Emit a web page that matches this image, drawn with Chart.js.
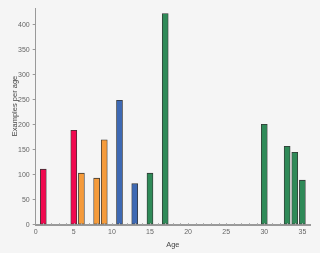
<!DOCTYPE html>
<html><head><meta charset="utf-8">
<script src="https://cdn.jsdelivr.net/npm/chart.js@4"></script>
<style>html,body{margin:0;padding:0;background:#f5f5f5;}#wrap{width:320px;height:253px;}</style>
</head><body><div id="wrap"><canvas id="c" width="320" height="253"></canvas></div>
<script>
const ages = [1, 5, 6, 8, 9, 11, 13, 15, 17, 30, 33, 34, 35];
const counts = [111, 189, 103, 93, 170, 249, 82, 103, 423, 201, 157, 145, 89];
const groups = ['a', 'a', 'b', 'b', 'b', 'c', 'c', 'd', 'd', 'd', 'd', 'd', 'd'];
const groupColors = { a: '#f0094f', b: '#f59b3b', c: '#3e69b3', d: '#2f8a58' };
const xTicks = [0, 5, 10, 15, 20, 25, 30, 35];
const yTicks = [0, 50, 100, 150, 200, 250, 300, 350, 400];
const yTitle = 'Examples per age';

const bg = { id: 'bg', beforeDraw(ch) { const c = ch.ctx; c.save(); c.fillStyle = '#f5f5f5'; c.fillRect(0, 0, ch.width, ch.height); c.restore(); } };
const yTitlePlugin = { id: 'yTitle', afterDraw(ch) {
  const c = ch.ctx; c.save();
  c.translate(15, 106); c.rotate(-Math.PI / 2);
  c.font = '7.5px "Liberation Sans"'; c.fillStyle = '#444'; c.textAlign = 'center'; c.textBaseline = 'middle';
  c.fillText(yTitle, 0, 0); c.restore();
} };
const minorTicks = { id: 'minorTicks', afterDraw(ch) {
  const c = ch.ctx, xs = ch.scales.x, y0 = ch.chartArea.bottom;
  c.save(); c.strokeStyle = '#aaa'; c.lineWidth = 1;
  for (let v = 1; v <= 35; v++) { const px = Math.round(xs.getPixelForValue(v)) + 0.5; c.beginPath(); c.moveTo(px, y0); c.lineTo(px, y0 - 1.5); c.stroke(); }
  c.restore();
} };

new Chart(document.getElementById('c'), {
  type: 'bar',
  data: {
    datasets: [{
      data: ages.map((a, i) => ({ x: a, y: counts[i] })),
      backgroundColor: groups.map(g => groupColors[g]),
      borderColor: '#333333',
      borderWidth: 0.8,
      barThickness: 6,
      borderSkipped: false
    }]
  },
  options: {
    responsive: false,
    animation: false,
    devicePixelRatio: 1,
    layout: { padding: { left: 15, right: 10, top: 8, bottom: 4 } },
    plugins: { legend: { display: false }, tooltip: { enabled: false } },
    scales: {
      x: {
        type: 'linear', min: 0, max: 36, offset: false,
        afterBuildTicks: s => { s.ticks = xTicks.map(v => ({ value: v })); },
        ticks: { font: { family: 'Liberation Sans', size: 7 }, color: '#666', padding: 3, maxRotation: 0 },
        grid: { display: true, drawOnChartArea: false, drawTicks: false },
        border: { color: '#999', width: 2 },
        title: { display: true, text: 'Age', font: { family: 'Liberation Sans', size: 7.5 }, color: '#444', padding: { top: 1, bottom: 0 } }
      },
      y: {
        min: 0, max: 434,
        afterBuildTicks: s => { s.ticks = yTicks.map(v => ({ value: v })); },
        ticks: { font: { family: 'Liberation Sans', size: 7 }, color: '#666', padding: 3 },
        grid: { display: true, drawOnChartArea: false, tickLength: 3, color: '#999' },
        border: { color: '#999', width: 1 }
      }
    }
  },
  plugins: [bg, yTitlePlugin, minorTicks]
});
</script></body></html>
